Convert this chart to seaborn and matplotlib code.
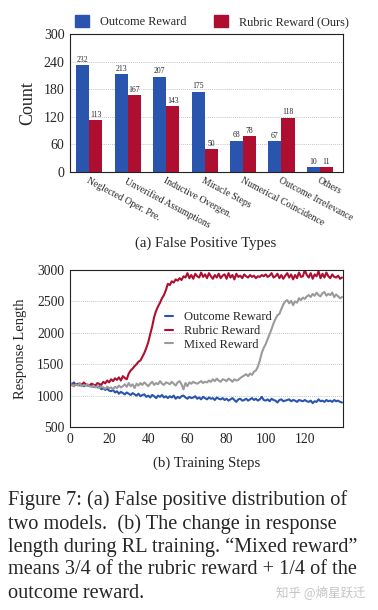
import numpy as np
import pandas as pd
import seaborn as sns
import matplotlib.pyplot as plt
from matplotlib.patches import Patch

# (a) false positive counts
categories = ["Neglected Oper. Pre.", "Unverified Assumptions", "Inductive Overgen.",
              "Miracle Steps", "Numerical Coincidence", "Outcome Irrelevance", "Others"]
outcome_counts = [232, 213, 207, 175, 68, 67, 10]
rubric_counts = [113, 167, 143, 50, 78, 118, 11]
bar_series = ["Outcome Reward", "Rubric Reward (Ours)"]

# (b) response length per training step
outcome_len = [
    1200, 1180, 1210, 1170, 1190, 1160, 1180, 1150, 1170, 1160,
    1150, 1170, 1140, 1160, 1130, 1150, 1100, 1120, 1090, 1110,
    1080, 1070, 1090, 1050, 1070, 1030, 1060, 1040, 1020, 1050,
    1030, 1010, 1040, 1020, 1000, 1030, 990, 1010, 1020, 980,
    1000, 970, 1010, 990, 960, 1000, 980, 1010, 970, 990,
    960, 990, 970, 1000, 950, 980, 960, 990, 1000, 970,
    950, 980, 960, 970, 990, 950, 970, 940, 980, 960,
    940, 970, 950, 960, 930, 970, 950, 940, 960, 930,
    950, 920, 940, 960, 930, 900, 940, 950, 920, 930,
    950, 920, 940, 960, 930, 950, 920, 940, 980, 930,
    920, 940, 910, 950, 930, 920, 890, 930, 940, 910,
    920, 930, 940, 910, 930, 920, 900, 930, 920, 910,
    930, 910, 900, 920, 880, 910, 900, 940, 910, 920,
    900, 930, 910, 920, 900, 930, 910, 920, 900, 890,
]
rubric_len = [
    1160, 1175, 1150, 1185, 1170, 1195, 1160, 1210, 1180, 1170,
    1165, 1190, 1175, 1160, 1200, 1185, 1170, 1220, 1195, 1240,
    1210, 1260, 1230, 1275, 1250, 1290, 1240, 1310, 1280, 1260,
    1350, 1400, 1430, 1470, 1500, 1540, 1560, 1620, 1680, 1760,
    1850, 1980, 2100, 2250, 2350, 2420, 2480, 2550, 2600, 2680,
    2780, 2760, 2820, 2800, 2850, 2830, 2870, 2840, 2900, 2880,
    2950, 2870, 2920, 2860, 2940, 2900, 2880, 2960, 2890, 2930,
    2870, 2950, 2900, 2860, 2920, 2880, 2940, 2870, 2910, 2930,
    2860, 2950, 2880, 2920, 2850, 2940, 2890, 2910, 2870, 2930,
    2900, 2880, 2920, 2890, 2910, 2870, 2900, 2890, 2920, 2900,
    2930, 2890, 2910, 2950, 2880, 2900, 2940, 2870, 2920, 2860,
    2910, 2950, 2880, 2930, 2850, 2920, 2870, 2960, 2890, 2900,
    3000, 2920, 2880, 2950, 2860, 2930, 2900, 2980, 2870, 2940,
    2880, 2960, 2900, 2870, 2930, 2890, 2880, 2910, 2860, 2880,
]
mixed_len = [
    1200, 1170, 1150, 1180, 1160, 1190, 1150, 1170, 1160, 1180,
    1150, 1140, 1160, 1130, 1150, 1120, 1140, 1130, 1110, 1140,
    1120, 1130, 1100, 1140, 1120, 1160, 1130, 1150, 1180, 1140,
    1200, 1150, 1180, 1120, 1190, 1160, 1200, 1170, 1210, 1180,
    1150, 1190, 1220, 1170, 1200, 1180, 1230, 1190, 1170, 1210,
    1200, 1180, 1220, 1190, 1160, 1210, 1230, 1180, 1100, 1200,
    1150, 1210, 1190, 1220, 1200, 1190, 1210, 1230, 1200, 1220,
    1210, 1240, 1220, 1260, 1230, 1270, 1240, 1220, 1260, 1250,
    1230, 1270, 1250, 1220, 1260, 1240, 1250, 1280, 1300, 1320,
    1340, 1310, 1350, 1330, 1380, 1400, 1460, 1560, 1680, 1760,
    1820, 1900, 1980, 2060, 2150, 2220, 2280, 2300, 2380, 2450,
    2500, 2520, 2470, 2510, 2440, 2500, 2480, 2550, 2520, 2560,
    2540, 2580, 2600, 2570, 2620, 2590, 2640, 2600, 2580, 2630,
    2650, 2590, 2620, 2600, 2640, 2570, 2610, 2580, 2550, 2570,
]
line_series = ["Outcome Reward", "Rubric Reward", "Mixed Reward"]

caption_lines = [
    "Figure 7: (a) False positive distribution of",
    "two models.  (b) The change in response",
    "length during RL training. \u201cMixed reward\u201d",
    "means 3/4 of the rubric reward + 1/4 of the",
    "outcome reward.",
]

BLUE = "#2a55ae"
RED = "#ae0f31"
GREY = "#9a9a9a"

sns.set_style("ticks")
plt.rcParams["font.family"] = ["Liberation Serif", "DejaVu Serif"]

W, H = 378, 610
fig = plt.figure(figsize=(W / 100, H / 100), dpi=100)


def px_axes(left, top, right, bottom):
    return fig.add_axes([left / W, 1 - bottom / H, (right - left) / W, (bottom - top) / H])


# ---------- (a) bar chart ----------
ax1 = px_axes(70, 34, 343, 172)
bars_df = pd.DataFrame({
    "type": categories * 2,
    "count": outcome_counts + rubric_counts,
    "model": [bar_series[0]] * len(categories) + [bar_series[1]] * len(categories),
})
sns.barplot(data=bars_df, x="type", y="count", hue="model", order=categories,
            hue_order=bar_series, palette=[BLUE, RED], width=0.68, saturation=1,
            linewidth=0, edgecolor="none", legend=False, ax=ax1)
for cont in ax1.containers:
    ax1.bar_label(cont, fontsize=5.5, padding=1)
ax1.set_ylim(0, 300)
ax1.set_xlim(-0.5, 6.6)
ax1.set_yticks([0, 60, 120, 180, 240, 300])
ax1.yaxis.grid(True, linestyle=(0, (1, 1.5)), color="#b0b0b0", linewidth=0.6)
ax1.set_axisbelow(True)
ax1.set_ylabel("Count", fontsize=13, labelpad=5)
ax1.set_xlabel("")
ax1.tick_params(axis="y", labelsize=10, length=0, pad=4)
ax1.tick_params(axis="x", length=0, pad=3)
ax1.set_xticks(range(len(categories)))
ax1.set_xticklabels(categories, rotation=-28, ha="left", va="top",
                    rotation_mode="anchor", fontsize=7)
for sp in ax1.spines.values():
    sp.set_linewidth(0.8)
    sp.set_color("#222222")
handles = [Patch(color=BLUE), Patch(color=RED)]
ax1.legend(handles, bar_series, loc="lower center", bbox_to_anchor=(0.52, 1.0),
           ncol=2, frameon=False, fontsize=8.8, handlelength=1.1, handleheight=1.1,
           columnspacing=2.3, handletextpad=0.9, borderaxespad=0.1)
fig.text(206 / W, 1 - 243 / H, "(a) False Positive Types", ha="center", va="center",
         fontsize=10.6)

# ---------- (b) line chart ----------
ax2 = px_axes(70, 270, 343, 427)
n = len(outcome_len)
lines_df = pd.DataFrame({
    "step": list(range(n)) * 3,
    "length": outcome_len + rubric_len + mixed_len,
    "reward": [line_series[0]] * n + [line_series[1]] * n + [line_series[2]] * n,
})
sns.lineplot(data=lines_df, x="step", y="length", hue="reward", hue_order=line_series,
             palette=[BLUE, RED, GREY], linewidth=1.5, ax=ax2)
ax2.set_xlim(0, 139.5)
ax2.set_ylim(500, 3000)
ax2.set_xticks([0, 20, 40, 60, 80, 100, 120])
ax2.set_yticks([500, 1000, 1500, 2000, 2500, 3000])
ax2.yaxis.grid(True, linestyle=(0, (1, 1.5)), color="#b0b0b0", linewidth=0.6)
ax2.set_axisbelow(True)
ax2.tick_params(axis="both", labelsize=9.8, length=0, pad=4)
ax2.set_ylabel("Response Length", fontsize=10.5, labelpad=7)
ax2.set_xlabel("(b) Training Steps", fontsize=10.7, labelpad=8)
for sp in ax2.spines.values():
    sp.set_linewidth(0.8)
    sp.set_color("#222222")
leg = ax2.legend(loc="upper left", bbox_to_anchor=(0.33, 0.77), frameon=False,
                 fontsize=9, handlelength=0.6, handletextpad=0.9,
                 labelspacing=0.15, borderaxespad=0)
for ln in leg.get_lines():
    ln.set_linewidth(1.5)

# ---------- caption ----------
line_y = [500, 524, 547, 570, 593]
for line, yc in zip(caption_lines, line_y):
    fig.text(8 / W, 1 - yc / H, line, fontsize=14.6, va="center", ha="left")

fig.text(366 / W, 1 - 593 / H, "\u77e5\u4e4e @\u71b5\u661f\u8dc3\u8fc1", ha="right",
         va="center", fontsize=9, color="#c4c4c4",
         family=["Noto Sans CJK SC", "DejaVu Sans"])

fig.savefig("out.png", dpi=100)
